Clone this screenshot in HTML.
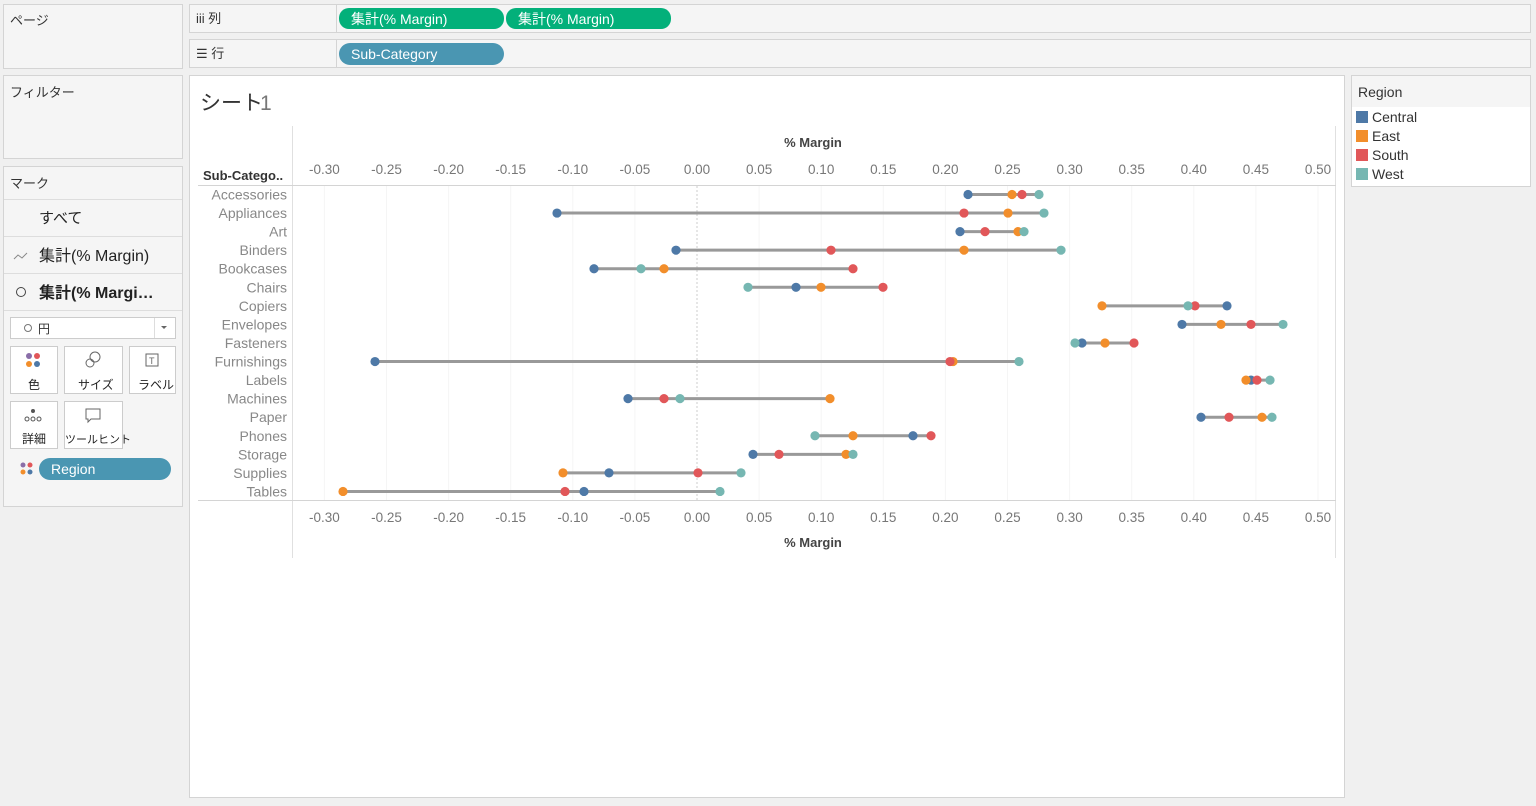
<!DOCTYPE html>
<html><head><meta charset="utf-8"><style>
body{margin:0;width:1536px;height:801px;background:#f0f0f0;overflow:hidden;font-family:"Liberation Sans","Noto Sans CJK JP",sans-serif}
text{font-family:"Liberation Sans","Noto Sans CJK JP",sans-serif}
</style></head><body>
<svg id="s" width="1536" height="801" xmlns="http://www.w3.org/2000/svg">
<rect width="1536" height="801" fill="#f0f0f0"/>
<rect x="3.5" y="4.5" width="179" height="64" fill="#f5f5f5" stroke="#d4d4d4"/>
<text x="10" y="25" font-size="13" fill="#333">ページ</text>
<rect x="3.5" y="75.5" width="179" height="83" fill="#f5f5f5" stroke="#d4d4d4"/>
<text x="10" y="97" font-size="13" fill="#333">フィルター</text>
<rect x="3.5" y="166.5" width="179" height="340" fill="#f5f5f5" stroke="#d4d4d4"/>
<text x="10" y="188" font-size="13" fill="#333">マーク</text>
<line x1="4" y1="199.5" x2="182" y2="199.5" stroke="#ddd"/>
<text x="39" y="223" font-size="15" fill="#222">すべて</text>
<line x1="4" y1="236.5" x2="182" y2="236.5" stroke="#ddd"/>
<polyline points="14,259 18,255 22,258 27,253" fill="none" stroke="#888"/>
<text x="39" y="261" font-size="16" fill="#222">集計(% Margin)</text>
<line x1="4" y1="273.5" x2="182" y2="273.5" stroke="#ddd"/>
<circle cx="21" cy="292" r="4.5" fill="none" stroke="#444"/>
<text x="39" y="298" font-size="16" font-weight="bold" fill="#222">集計(% Margi…</text>
<line x1="4" y1="310.5" x2="182" y2="310.5" stroke="#ddd"/>
<rect x="10.5" y="317.5" width="165" height="21" fill="#fff" stroke="#ccc"/>
<circle cx="28" cy="328" r="3.5" fill="none" stroke="#777"/><text x="38" y="333" font-size="12" fill="#333">円</text>
<line x1="154.5" y1="318" x2="154.5" y2="338" stroke="#ddd"/><path d="M161,326 h6 l-3,3z" fill="#666"/>
<g fill="#fff" stroke="#ccc"><rect x="10.5" y="346.5" width="47" height="47"/><rect x="64.5" y="346.5" width="58" height="47"/><rect x="129.5" y="346.5" width="46" height="47"/><rect x="10.5" y="401.5" width="47" height="47"/><rect x="64.5" y="401.5" width="58" height="47"/></g>
<circle cx="29" cy="356" r="3" fill="#8a6ea8"/><circle cx="37" cy="356" r="3" fill="#e15759"/><circle cx="29" cy="364" r="3" fill="#f28e2b"/><circle cx="37" cy="364" r="3" fill="#4e79a7"/>
<text x="28" y="389" font-size="12" fill="#222">色</text>
<circle cx="95" cy="357" r="5" fill="none" stroke="#666"/><circle cx="90" cy="363" r="4" fill="none" stroke="#666"/><text x="78" y="389" font-size="12" fill="#222">サイズ</text>
<rect x="146" y="354" width="12" height="12" fill="none" stroke="#666"/><text x="149" y="364" font-size="9" fill="#666">T</text><text x="138" y="389" font-size="12" fill="#222">ラベル</text>
<circle cx="33" cy="411" r="2" fill="#555"/><g fill="none" stroke="#555"><circle cx="27" cy="419" r="2"/><circle cx="33" cy="419" r="2"/><circle cx="39" cy="419" r="2"/></g>
<text x="22" y="443" font-size="12" fill="#222">詳細</text>
<path d="M86,409 h14 v10 h-9 l-3,3 v-3 h-2z" fill="none" stroke="#666"/><text x="65" y="443" font-size="11" fill="#222">ツールヒント</text>
<circle cx="23" cy="465" r="2.5" fill="#8a6ea8"/><circle cx="30" cy="465" r="2.5" fill="#e15759"/><circle cx="23" cy="472" r="2.5" fill="#f28e2b"/><circle cx="30" cy="472" r="2.5" fill="#4e79a7"/>
<rect x="39" y="458" width="132" height="22" rx="11" fill="#4a96b2"/><text x="51" y="474" font-size="14" fill="#fff">Region</text>
<rect x="189.5" y="4.5" width="1341" height="28" fill="#f5f5f5" stroke="#d4d4d4"/>
<line x1="336.5" y1="5" x2="336.5" y2="32" stroke="#d4d4d4"/>
<text x="196" y="23" font-size="13" fill="#333">iii 列</text>
<rect x="339" y="8" width="165" height="21" rx="10" fill="#03b07a"/><text x="351" y="24" font-size="14" fill="#fff">集計(% Margin)</text>
<rect x="506" y="8" width="165" height="21" rx="10" fill="#03b07a"/><text x="518" y="24" font-size="14" fill="#fff">集計(% Margin)</text>
<rect x="189.5" y="39.5" width="1341" height="28" fill="#f5f5f5" stroke="#d4d4d4"/>
<line x1="336.5" y1="40" x2="336.5" y2="67" stroke="#d4d4d4"/>
<text x="196" y="58" font-size="13" fill="#333">☰ 行</text>
<rect x="339" y="43" width="165" height="22" rx="11" fill="#4a96b2"/><text x="351" y="59" font-size="14" fill="#fff">Sub-Category</text>
<rect x="189.5" y="75.5" width="1155" height="722" fill="#fff" stroke="#d4d4d4"/>
<text x="200" y="110" font-size="21" fill="#333">シート</text><text x="260" y="110" font-size="21" fill="#777">1</text>
<rect x="1351.5" y="75.5" width="179" height="111" fill="#fff" stroke="#d4d4d4"/>
<rect x="1352" y="76" width="178" height="31" fill="#f5f5f5"/>
<text x="1358" y="97" font-size="14" fill="#333">Region</text>
<rect x="1356" y="111" width="12" height="12" fill="#4e79a7"/><text x="1372" y="122" font-size="14" fill="#333">Central</text>
<rect x="1356" y="130" width="12" height="12" fill="#f28e2b"/><text x="1372" y="141" font-size="14" fill="#333">East</text>
<rect x="1356" y="149" width="12" height="12" fill="#e15759"/><text x="1372" y="160" font-size="14" fill="#333">South</text>
<rect x="1356" y="168" width="12" height="12" fill="#76b7b2"/><text x="1372" y="179" font-size="14" fill="#333">West</text>
<line x1="292.5" y1="126" x2="292.5" y2="558" stroke="#e0e0e0"/>
<line x1="1335.5" y1="126" x2="1335.5" y2="558" stroke="#e0e0e0"/>
<line x1="198" y1="185.5" x2="1336" y2="185.5" stroke="#d4d4d4"/>
<line x1="198" y1="500.5" x2="1336" y2="500.5" stroke="#d4d4d4"/>
<text x="813" y="147" font-size="13" font-weight="bold" fill="#444" text-anchor="middle">% Margin</text>
<text x="813" y="547" font-size="13" font-weight="bold" fill="#444" text-anchor="middle">% Margin</text>
<text x="203" y="180" font-size="13" font-weight="bold" fill="#333">Sub-Catego..</text>
<g id="g"></g>
</svg>
<script>
var g=document.getElementById('g'),h='';
function X(v){return 697+v*1242;}
for(var i=-6;i<=10;i++){var v=i*0.05,x=X(v),t=(v<-0.001?'-':'')+Math.abs(v).toFixed(2);
h+='<line x1="'+x+'" y1="186" x2="'+x+'" y2="500" stroke="'+(i==0?'#ccc':'#f5f5f5')+'" '+(i==0?'stroke-dasharray="2,2"':'')+'/>';
h+='<text x="'+x+'" y="174" font-size="13.5" fill="#777" text-anchor="middle">'+t+'</text>';
h+='<text x="'+x+'" y="522" font-size="13.5" fill="#777" text-anchor="middle">'+t+'</text>';}
var C={b:'#4e79a7',o:'#f28e2b',r:'#e15759',t:'#76b7b2'};
var d=[['Accessories',968,1012,1022,1039],['Appliances',557,1008,964,1044],['Art',960,1018,985,1024],['Binders',676,964,831,1061],['Bookcases',594,664,853,641],['Chairs',796,821,883,748],['Copiers',1227,1102,1195,1188],['Envelopes',1182,1221,1251,1283],['Fasteners',1082,1105,1134,1075],['Furnishings',375,953,950,1019],['Labels',1251,1246,1257,1270],['Machines',628,830,664,680],['Paper',1201,1262,1229,1272],['Phones',913,853,931,815],['Storage',753,846,779,853],['Supplies',609,563,698,741],['Tables',584,343,565,720]];
d.forEach(function(r,i){var y=194.5+i*18.56,xs=r.slice(1),mn=Math.min.apply(0,xs),mx=Math.max.apply(0,xs);
h+='<text x="287" y="'+(y+5)+'" font-size="14" fill="#888" text-anchor="end">'+r[0]+'</text>';
h+='<line x1="'+mn+'" y1="'+y+'" x2="'+mx+'" y2="'+y+'" stroke="#999" stroke-width="3"/>';
['b','o','r','t'].forEach(function(k,j){h+='<circle cx="'+xs[j]+'" cy="'+y+'" r="4.6" fill="'+C[k]+'"/>';});});
g.innerHTML=h;
</script>
</body></html>
